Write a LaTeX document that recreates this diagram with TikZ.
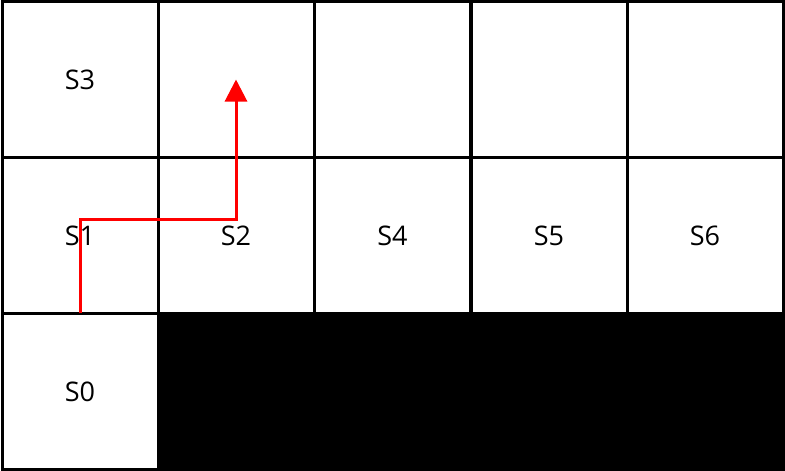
\documentclass[tikz,border=0pt]{standalone}
\usepackage{fontspec}
\setmainfont{Open Sans}
\usetikzlibrary{arrows.meta}

\begin{document}
\begin{tikzpicture}[x=1pt,y=-1pt,
    cell/.style={rectangle,draw,line width=3pt,minimum width=156pt,minimum height=155.5pt,
                 inner sep=0pt,outer sep=0pt,font=\fontsize{27}{32}\selectfont},
    wall/.style={cell,fill=black},
    path/.style={draw=red,line width=3pt,-{Triangle[length=22pt,width=22pt]}}]
    \useasboundingbox (0,0) rectangle (785,471);
    % top row
    \node (s3) [cell] at (80,79.5) {S3};
    \node (t1) [cell] at (236,79.5) {};
    \node (t2) [cell] at (392.5,79.5) {};
    \node (t3) [cell] at (549,79.5) {};
    \node (t4) [cell] at (705,79.5) {};
    % middle row
    \node (s1) [cell] at (80,235.5) {S1};
    \node (s2) [cell] at (236,235.5) {S2};
    \node (s4) [cell] at (392.5,235.5) {S4};
    \node (s5) [cell] at (549,235.5) {S5};
    \node (s6) [cell] at (705,235.5) {S6};
    % bottom row
    \node (s0) [cell] at (80,391.5) {S0};
    \node (w1) [wall] at (236,391.5) {};
    \node (w2) [wall] at (392.5,391.5) {};
    \node (w3) [wall] at (549,391.5) {};
    \node (w4) [wall] at (705,391.5) {};
    \draw[path] (s1.south) -- ++(0,-94) -| (t1.center);
  \end{tikzpicture}
\end{document}
